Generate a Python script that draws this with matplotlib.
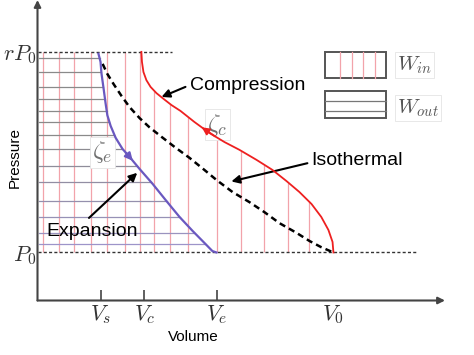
import numpy as np
import matplotlib
matplotlib.use('Agg')
import matplotlib.pyplot as plt
from matplotlib.patches import Rectangle
from matplotlib.lines import Line2D
from matplotlib.colors import to_rgb

plt.rcParams['mathtext.fontset'] = 'cm'
plt.rcParams['font.family'] = ['Liberation Sans', 'DejaVu Sans']

# volumes in units of V0, pressures in units of P0
V_s, V_c, V_e, V_0 = 0.215, 0.361, 0.605, 1.0
P_0 = 1.0
r = 5.18
x_labels = [r'$V_s$', r'$V_c$', r'$V_e$', r'$V_0$']
y_labels = [r'$P_0$', r'$rP_0$']

comp_v = [0.351, 0.353, 0.358, 0.368, 0.382, 0.402, 0.426, 0.453, 0.483, 0.530,
          0.581, 0.632, 0.682, 0.740, 0.794, 0.841, 0.885, 0.926, 0.959, 0.983,
          0.997, 1.0]
comp_p = [5.18, 4.97, 4.76, 4.59, 4.45, 4.32, 4.20, 4.07, 3.95, 3.72,
          3.49, 3.30, 3.14, 2.93, 2.72, 2.49, 2.26, 2.01, 1.74, 1.47,
          1.22, 1.0]

exp_v = [0.206, 0.213, 0.216, 0.223, 0.230, 0.236, 0.247, 0.264, 0.287, 0.314,
         0.345, 0.389, 0.436, 0.480, 0.524, 0.564, 0.591, 0.605]
exp_p = [5.14, 4.97, 4.74, 4.43, 4.11, 3.86, 3.64, 3.39, 3.16, 2.97,
         2.74, 2.43, 2.07, 1.74, 1.45, 1.20, 1.03, 1.0]

iso_v = [0.220, 0.236, 0.257, 0.284, 0.311, 0.345, 0.378, 0.419, 0.463, 0.514,
         0.564, 0.605, 0.659, 0.716, 0.767, 0.818, 0.875, 0.919, 0.959, 1.0]
iso_p = [4.93, 4.72, 4.51, 4.26, 4.03, 3.80, 3.61, 3.41, 3.20, 2.97,
         2.72, 2.51, 2.26, 2.05, 1.84, 1.61, 1.41, 1.24, 1.11, 1.0]

# hatch positions for the work areas
win_v = [0.017, 0.071, 0.125, 0.182, 0.236, 0.294, 0.348, 0.395, 0.449, 0.510,
         0.605, 0.689, 0.767, 0.848, 0.916]
wout_p = [5.05, 4.76, 4.45, 4.20, 3.95, 3.72, 3.45, 3.16, 2.80, 2.47,
          2.07, 1.74, 1.41, 1.18]

W, H = 474, 355
fig = plt.figure(figsize=(W / 100, H / 100), dpi=100)
ax = fig.add_axes([37.5 / W, 1 - 300.5 / H, 407.5 / W, 300.5 / H])
ax.set_xlim(0, 1.377)
ax.set_ylim(0, 6.26)
for s in ax.spines.values():
    s.set_visible(False)

rP0 = r * P_0
comp_v = np.array(comp_v); comp_p = np.array(comp_p)
exp_v = np.array(exp_v); exp_p = np.array(exp_p)

# W_in: vertical pink lines under compression curve
tops = np.interp(win_v, comp_v, comp_p, left=rP0)
ax.vlines(win_v, P_0, tops, colors='#f2a3aa', lw=0.9, zorder=1)

# W_out: horizontal lines left of expansion curve
ends = np.interp(wout_p, exp_p[::-1], exp_v[::-1])
c_top, c_bot = np.array(to_rgb('#8a8a8a')), np.array(to_rgb('#a096d2'))
n = len(wout_p)
for i, (p, e) in enumerate(zip(wout_p, ends)):
    t = max(0.0, (i - n * 0.45) / (n * 0.55))
    ax.plot([0.006, e], [p, p], color=c_top * (1 - t) + c_bot * t, lw=0.9, zorder=1)

# reference pressure levels
ax.plot([0, 0.453], [rP0, rP0], color='#333333', lw=1.0, ls=(0, (2.2, 1.6)), zorder=2)
ax.plot([0, 1.28], [P_0, P_0], color='#333333', lw=1.0, ls=(0, (2.2, 1.6)), zorder=2)

ax.plot(iso_v, iso_p, color='k', lw=1.8, ls=(0, (2.5, 1.7)), zorder=3)
ax.plot(comp_v, comp_p, color='#ee2020', lw=1.3, zorder=4)
ax.plot(exp_v, exp_p, color='#6a58c0', lw=1.6, zorder=4)

# direction arrows on the curves
ha_, hb_ = 0.555, 0.60
ax.annotate('', xy=(ha_, np.interp(ha_, comp_v, comp_p)), xytext=(hb_, np.interp(hb_, comp_v, comp_p)),
            arrowprops=dict(arrowstyle='-|>', color='#ee2020', lw=1.3, mutation_scale=11,
                            shrinkA=0, shrinkB=0), zorder=5)
ea_, eb_ = 0.30, 0.322
ax.annotate('', xy=(eb_, np.interp(eb_, exp_v, exp_p)), xytext=(ea_, np.interp(ea_, exp_v, exp_p)),
            arrowprops=dict(arrowstyle='-|>', color='#6a58c0', lw=1.6, mutation_scale=11,
                            shrinkA=0, shrinkB=0), zorder=5)

# axes with arrows
ax.annotate('', xy=(1, 0), xytext=(0, 0), xycoords='axes fraction',
            arrowprops=dict(arrowstyle='-|>', color='#444444', lw=1.5, mutation_scale=10, shrinkA=0, shrinkB=0))
ax.annotate('', xy=(0, 1), xytext=(0, 0), xycoords='axes fraction',
            arrowprops=dict(arrowstyle='-|>', color='#444444', lw=1.5, mutation_scale=10, shrinkA=0, shrinkB=0))

ax.set_xticks([V_s, V_c, V_e, V_0], x_labels)
ax.tick_params(axis='x', direction='in', length=8, width=1.2, color='#444444', pad=2,
               labelsize=16, labelcolor='#333333')
ax.xaxis.get_major_ticks()[3].tick1line.set_visible(False)
ax.set_yticks([P_0, rP0], y_labels)
ax.tick_params(axis='y', length=0, pad=1, labelsize=16, labelcolor='#333333')

# annotations
arrow_kw = dict(arrowstyle='-|>', color='k', lw=1.5, mutation_scale=12, shrinkA=0, shrinkB=0)
ax.text(0.709, 4.47, 'Compression', fontsize=14, ha='center', va='center')
ax.annotate('', xy=(0.419, 4.24), xytext=(0.50, 4.45), arrowprops=arrow_kw)
ax.text(1.078, 2.91, 'Isothermal', fontsize=14, ha='center', va='center')
ax.annotate('', xy=(0.655, 2.48), xytext=(0.912, 2.86), arrowprops=arrow_kw)
ax.text(0.186, 1.43, 'Expansion', fontsize=14, ha='center', va='center')
ax.annotate('', xy=(0.337, 2.66), xytext=(0.174, 1.72), arrowprops=arrow_kw)

box = dict(boxstyle='square,pad=0.1', fc='white', ec='#e4e4e4', lw=0.6)
ax.text(0.608, 3.66, r'$\zeta_c$', fontsize=18, color='#707070', ha='center', va='center', bbox=box)
ax.text(0.220, 3.09, r'$\zeta_e$', fontsize=18, color='#707070', ha='center', va='center', bbox=box)

fig.text(15 / W, 1 - 157 / H, 'Pressure', rotation=90, fontsize=11, ha='center', va='center')
fig.text(193 / W, 1 - 337 / H, 'Volume', fontsize=11, ha='center', va='center')

# legend drawn in pixel space
def fx(x):
    return x / W

def fy(y):
    return 1 - y / H

fig.add_artist(Rectangle((fx(325), fy(78)), 61 / W, 26 / H, fill=False, ec='#555555', lw=1.4))
for x in [340, 352, 363, 375]:
    fig.add_artist(Line2D([fx(x), fx(x)], [fy(78), fy(52)], color='#f2a3aa', lw=0.9))
fig.add_artist(Rectangle((fx(325), fy(118)), 61 / W, 27 / H, fill=False, ec='#555555', lw=1.4))
for y in [101, 111]:
    fig.add_artist(Line2D([fx(325), fx(386)], [fy(y), fy(y)], color='#777777', lw=0.9))
fig.text(fx(397), fy(65), r'$W_{in}$', fontsize=15, color='#555555', ha='left', va='center', bbox=box)
fig.text(fx(397), fy(108), r'$W_{out}$', fontsize=15, color='#555555', ha='left', va='center', bbox=box)

fig.savefig('out.png', dpi=100)
